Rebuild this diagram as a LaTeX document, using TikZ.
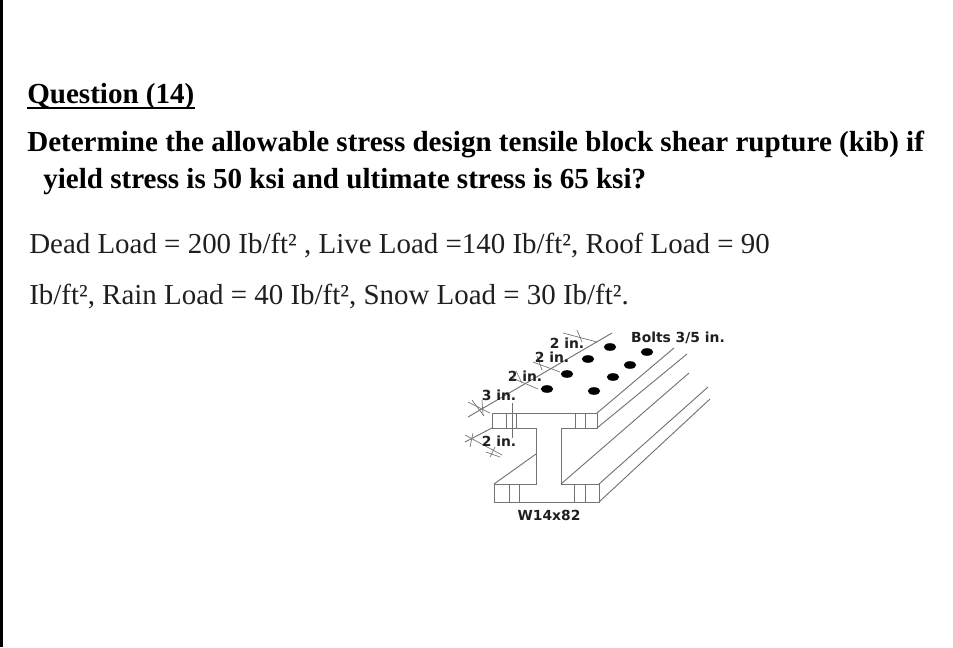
\documentclass[tikz,border=0pt]{standalone}
\usepackage{fontspec}
\setmainfont{Liberation Serif}
\newfontfamily\labelfont{DejaVu Sans}
\definecolor{inkgray}{gray}{0.12}
\definecolor{beamgray}{gray}{0.45}
\tikzset{
    head/.style={anchor=base west,inner sep=0pt,text=black,font=\fontsize{21.8}{24}\selectfont\bfseries},
    body/.style={anchor=base west,inner sep=0pt,text=inkgray,font=\fontsize{21.7}{24}\selectfont},
    dim/.style={inner sep=0pt,text=inkgray,font=\labelfont\fontsize{10.4}{12}\selectfont\bfseries},
    beam/.style={draw=beamgray,line width=0.7pt},
    tick/.style={draw=beamgray,line width=0.5pt},
    bolt/.style={fill=black,draw=none}
}
\begin{document}
\begin{tikzpicture}[x=0.75pt,y=-0.75pt]
            \useasboundingbox (0,0) rectangle (953,647);
            \fill[black] (0,0) rectangle (3,647);
            % text
            \node[head] (qtitle) at (27,103) {Question (14)};
            \draw[line width=1.1pt] (qtitle.base west) ++(0,5) -- ++(168,0);
            \node[head] (qline1) at (27,151) {Determine the allowable stress design tensile block shear rupture (kib) if};
            \node[head] (qline2) at (43,188) {yield stress is 50 ksi and ultimate stress is 65 ksi?};
            \node[body] (loads1) at (29,253) {Dead Load = 200 Ib/ft² , Live Load =140 Ib/ft², Roof Load = 90};
            \node[body] (loads2) at (29,304) {Ib/ft², Rain Load = 40 Ib/ft², Snow Load = 30 Ib/ft².};
            % flanges and web
            \draw[beam] (492,413) -- (597,413) -- (597,428) -- (561,428) -- (561,484) -- (599,484) -- (599,502)
                -- (494,502) -- (494,484) -- (536,484) -- (536,428) -- (492,428) -- cycle;
            \draw[tick] (506,413) -- (506,428);
            \draw[tick] (512,403) -- (512,438);
            \draw[tick] (516,413) -- (516,428);
            \draw[tick] (575,413) -- (575,428);
            \draw[tick] (585,413) -- (585,428);
            \draw[tick] (509,484) -- (509,502);
            \draw[tick] (519,484) -- (519,502);
            \draw[tick] (574,484) -- (574,502);
            \draw[tick] (585,484) -- (585,502);
            % length lines
            \draw[beam] (468,417) -- (612,333);
            \draw[beam] (597,413) -- (674,348);
            \draw[beam] (597,428) -- (687,354);
            \draw[beam] (561,484) -- (689,373);
            \draw[beam] (599,484) -- (708,387);
            \draw[beam] (599,502) -- (710,399);
            \draw[beam] (494,484) -- (536,454);
            \draw[beam] (465,442) -- (492,428);
            % dimension ticks
            \draw[tick] (468,402) -- (490,413);
            \draw[tick] (472,400) -- (484,416);
            \draw[tick] (482,400) -- (483,415);
            \draw[tick] (510,377) -- (538,389);
            \draw[tick] (516,371) -- (522,383);
            \draw[tick] (533,362) -- (560,372);
            \draw[tick] (537,356) -- (542,370);
            \draw[tick] (563,333) -- (597,342);
            \draw[tick] (577,330) -- (582,342);
            \draw[tick] (465,435) -- (502,455);
            \draw[tick] (473,433) -- (470,447);
            \draw[tick] (490,457) -- (495,447);
            \draw[tick] (486,452) -- (500,457);
            % bolts
            \foreach \bx/\by in {547/389,567/374,588/359,610/347,594/391,613/377,630/365,647/352}
                \fill[bolt] (\bx,\by) ellipse (6.2 and 3.8);
            % labels
            \node[dim] (lblbolts) at (678,338) {Bolts 3/5 in.};
            \node[dim] (lblbeam) at (549,515) {W14x82};
            \node[dim] (lblthree) at (499,395) {3 in.};
            \node[dim] (lbltwoa) at (525,376) {2 in.};
            \node[dim] (lbltwob) at (552,357) {2 in.};
            \node[dim] (lbltwoc) at (567,343) {2 in.};
            \node[dim] (lbltwod) at (499,441) {2 in.};
            \end{tikzpicture}
\end{document}
